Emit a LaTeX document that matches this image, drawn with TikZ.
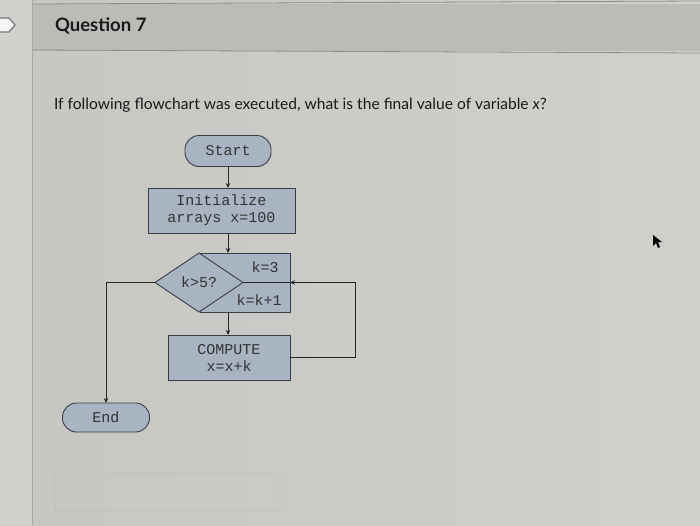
\documentclass[tikz,border=0pt]{standalone}
\usepackage{fontspec}
\setmainfont{Lato}
\newfontfamily\flowfont{Liberation Mono}
\usetikzlibrary{shapes.geometric,arrows.meta}
\definecolor{pagebg}{HTML}{C6C6C3}
\definecolor{pagebgr}{HTML}{D0D0CD}
\definecolor{headbg}{HTML}{BBBBB8}
\definecolor{boxfill}{HTML}{A8B4C2}
\definecolor{boxline}{HTML}{383D44}
\begin{document}
\begin{tikzpicture}[x=1pt,y=-1pt,>={Stealth[length=5pt,width=4.5pt]},
  every node/.style={inner sep=0pt,outer sep=0pt},
  flow/.style={draw=boxline,fill=boxfill,line width=0.9pt,align=center,
    font=\flowfont\fontsize{15}{17}\selectfont,text=black!80},
  term/.style={flow,rounded corners=14pt},
  proc/.style={flow},
  cond/.style={flow,diamond,aspect=1.5},
  txt/.style={font=\flowfont\fontsize{15}{17}\selectfont,text=black!80},
  link/.style={draw=black!85,line width=0.8pt}]
\useasboundingbox (0,0) rectangle (700,525);
% page and header
\shade[left color=pagebg,right color=pagebgr] (0,0) rectangle (700,525);
\fill[black!5,opacity=0.25] (0,0) rectangle (32,525);
\fill[headbg] (32,4) rectangle (700,51);
\draw[black!45,line width=0.8pt] (32,4) -- (700,1) (32,50) -- (700,53);
\draw[black!35,line width=0.8pt] (32,0) -- (32,525);
\draw[boxline!70,fill=black!4,line width=1.2pt] (-2,18) -- (9,18) -- (15,25) -- (9,32) -- (-2,32);
\node[anchor=west,font=\bfseries\fontsize{18.5}{21}\selectfont,text=black!90] (title) at (55,26) {Question 7};
\node[anchor=west,font=\fontsize{15.6}{18}\selectfont,text=black!90] (question) at (54,105)
  {If following flowchart was executed, what is the final value of variable \textit{x}?};
% flowchart
\node[term,minimum width=86pt,minimum height=31pt] (start) at (228,151) {Start};
\node[proc,minimum width=147pt,minimum height=45pt] (init) at (221.5,210.5) {Initialize\\arrays x=100};
\node[proc,minimum width=90pt,minimum height=59pt] (loop) at (245,282.5) {};
\node[cond,minimum width=88pt,minimum height=59pt] (test) at (199,282.5) {k>5?};
\node[txt] (kset) at (265,267) {k=3};
\node[txt] (kinc) at (259,300) {k=k+1};
\node[proc,minimum width=122pt,minimum height=45pt] (comp) at (229,357.5) {COMPUTE\\x=x+k};
\node[term,minimum width=87pt,minimum height=29pt] (end) at (106,417.5) {End};
\draw[link] (test.east) -- (loop.east);
\draw[link,->] (start) -- (start |- init.north);
\draw[link,->] (start |- init.south) -- (start |- loop.north);
\draw[link,->] (start |- loop.south) -- (start |- comp.north);
\draw[link,->] (comp.east) -- ++(65,0) |- (loop.east);
\draw[link,->] (test.west) -| (end.north);
% answer field and pointer
\draw[black!25,line width=0.8pt,rounded corners=1pt] (55,474) rectangle (280,511);
\fill[black] (653,235) -- (653,246) -- (656,243) -- (658,248) -- (660,247) -- (658,242) -- (662,242) -- cycle;
\end{tikzpicture}
\end{document}
